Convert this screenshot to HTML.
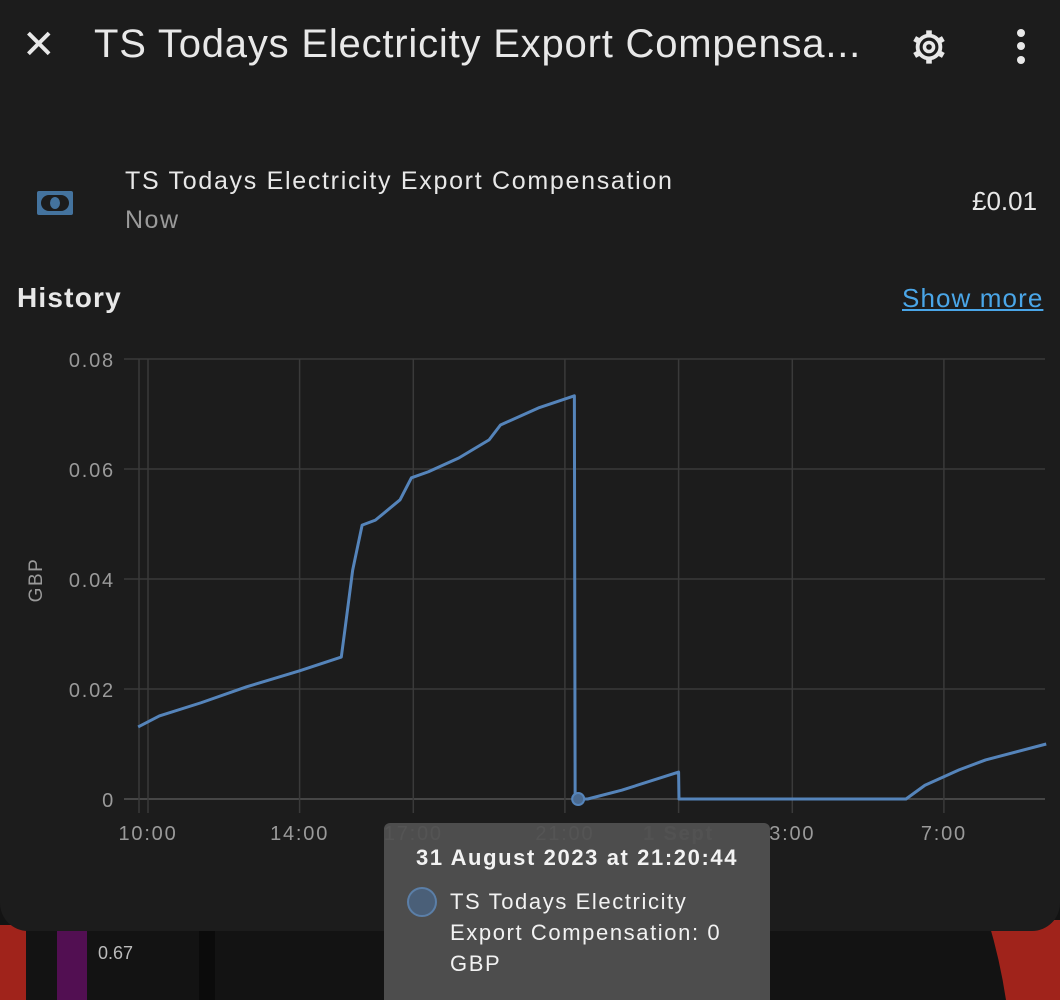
<!DOCTYPE html>
<html><head><meta charset="utf-8"><style>
html,body{margin:0;width:1060px;height:1000px;overflow:hidden}
body{background:#131313;font-family:"Liberation Sans",sans-serif;position:relative}
.abs{position:absolute}
</style></head><body>
<div class="abs" style="left:0;top:925px;width:26px;height:75px;background:#a0231b"></div>
<svg class="abs" style="left:980px;top:920px" width="80" height="80"><path d="M8 0 Q20 40 26 80 L80 80 L80 0 Z" fill="#a0231b"/></svg>
<div class="abs" style="left:57px;top:930px;width:30px;height:70px;background:#520f52"></div>
<div class="abs" style="left:98px;top:943px;font-size:18px;color:#bbb">0.67</div>
<div class="abs" style="left:199px;top:930px;width:16px;height:70px;background:#0b0b0b"></div>
<div class="abs" style="left:0;top:0;width:1060px;height:931px;background:#1c1c1c;border-radius:0 0 28px 28px"></div>
<div class="abs" style="left:22px;top:20px;font-size:40px;color:#e8e8e8;line-height:50px">✕</div>
<div class="abs" style="left:94px;top:22px;font-size:40px;letter-spacing:0.8px;color:#e8e8e8;white-space:nowrap">TS Todays Electricity Export Compensa...</div>
<svg class="abs" style="left:908px;top:26px" width="42" height="42" viewBox="0 0 24 24"><circle cx="12" cy="12" r="6.5" fill="none" stroke="#e8e8e8" stroke-width="2.2"/><circle cx="12" cy="12" r="2.6" fill="none" stroke="#e8e8e8" stroke-width="2"/><g stroke="#e8e8e8" stroke-width="3.2"><line x1="12" y1="2.5" x2="12" y2="5.5"/><line x1="12" y1="18.5" x2="12" y2="21.5"/><line x1="3.8" y1="7.2" x2="6.4" y2="8.7"/><line x1="17.6" y1="15.3" x2="20.2" y2="16.8"/><line x1="3.8" y1="16.8" x2="6.4" y2="15.3"/><line x1="17.6" y1="8.7" x2="20.2" y2="7.2"/></g></svg>
<svg class="abs" style="left:1008px;top:28px" width="26" height="38"><circle cx="13" cy="5" r="4" fill="#e8e8e8"/><circle cx="13" cy="18" r="4" fill="#e8e8e8"/><circle cx="13" cy="32" r="4" fill="#e8e8e8"/></svg>
<div class="abs" style="left:37px;top:191px;width:36px;height:24px;background:#44739e;border-radius:2px"><div style="position:absolute;left:4px;top:4px;width:28px;height:16px;background:#1c1c1c;border-radius:8px"></div><div style="position:absolute;left:13px;top:6px;width:10px;height:12px;background:#44739e;border-radius:50%"></div></div>
<div class="abs" style="left:125px;top:167px;font-size:25px;letter-spacing:1.7px;color:#e8e8e8;white-space:nowrap">TS Todays Electricity Export Compensation</div>
<div class="abs" style="left:125px;top:206px;font-size:25px;letter-spacing:1.5px;color:#9a9a9a">Now</div>
<div class="abs" style="left:972px;top:186px;font-size:26px;color:#e8e8e8">£0.01</div>
<div class="abs" style="left:17px;top:282px;font-size:28px;letter-spacing:1.2px;font-weight:bold;color:#e8e8e8">History</div>
<div class="abs" style="left:902px;top:283px;font-size:26px;letter-spacing:1.1px;color:#4aa6e8;text-decoration:underline;white-space:nowrap">Show more</div>
<svg class="abs" style="left:0;top:0" width="1060" height="1000" id="chart"></svg>
<div class="abs" style="left:384px;top:823px;width:386px;height:177px;background:rgba(80,80,80,0.95);border-radius:6px 6px 0 0">
<div style="position:absolute;left:32px;top:22px;font-size:22px;letter-spacing:1.6px;font-weight:bold;color:#f2f2f2;white-space:nowrap">31 August 2023 at 21:20:44</div>
<div style="position:absolute;left:23px;top:64px;width:30px;height:30px;border-radius:50%;background:#4a5f78;border:2px solid #5b7fa8;box-sizing:border-box"></div>
<div style="position:absolute;left:66px;top:63px;font-size:22px;letter-spacing:1.6px;line-height:31px;color:#f2f2f2;white-space:nowrap">TS Todays Electricity<br>Export Compensation: 0<br>GBP</div>
</div>
<script>
const yTicks=[0,0.02,0.04,0.06,0.08];
const yTickLabels=["0","0.02","0.04","0.06","0.08"];
const xTicks=[10,14,17,21,24,27,31];
const xTickLabels=["10:00","14:00","17:00","21:00","1 Sept","3:00","7:00"];
const hours=[9.74,10.3,11.4,12.6,14,15.1,15.2,15.4,15.65,16,16.65,16.95,17.4,18.2,19,19.3,20.3,21.25,21.27,21.6,22.5,24,24.01,30,30.5,31.4,32.1,33.7];
const values=[0.0131,0.0151,0.0175,0.0204,0.0233,0.0258,0.031,0.0416,0.0498,0.0507,0.0544,0.0584,0.0595,0.062,0.0653,0.068,0.0711,0.0733,0,0,0.0016,0.0049,0,0,0.0025,0.0053,0.0071,0.01];
const hoverPoint=[21.35,0];
const NS="http://www.w3.org/2000/svg";
const svg=document.getElementById('chart');
const X=h=>148+(h-10)*37.9;
const Y=v=>799-v*5500;
function mk(t,a){const e=document.createElementNS(NS,t);for(const k in a)e.setAttribute(k,a[k]);svg.appendChild(e);return e;}
yTicks.forEach((v,i)=>{
 const l=mk('line',{x1:124,x2:1045,y1:Y(v),y2:Y(v),stroke:i==0?'#555':'#3a3a3a','stroke-width':1.5});
 
 
 const t=mk('text',{x:115,y:Y(v)+8,'text-anchor':'end','font-size':20,fill:'#9a9a9a','font-family':'Liberation Sans','letter-spacing':'1.8'});
 t.textContent=yTickLabels[i];
 
 
});
mk('line',{x1:139,x2:139,y1:359,y2:813,stroke:'#3a3a3a','stroke-width':1.5});
xTicks.forEach((h,i)=>{
 const l=mk('line',{x1:X(h),x2:X(h),y1:359,y2:813,stroke:'#3a3a3a','stroke-width':1.5});
 
 
 const t=mk('text',{x:X(h),y:840,'text-anchor':'middle','font-size':20,fill:i==4?'#777':'#9a9a9a','font-weight':i==4?'bold':'normal','font-family':'Liberation Sans','letter-spacing':'1.8'});
 t.textContent=xTickLabels[i];
 
 
});
const yt=mk('text',{x:0,y:0,transform:'translate(42,580) rotate(-90)','text-anchor':'middle','font-size':19,fill:'#9a9a9a','font-family':'Liberation Sans','letter-spacing':'1.5'});
yt.textContent='GBP';


const p=mk('polyline',{points:hours.map((h,i)=>X(h)+','+Y(values[i])).join(' '),fill:'none',stroke:'#5584ba','stroke-width':3,'stroke-linejoin':'round'});


const c=mk('circle',{cx:X(hoverPoint[0]),cy:Y(hoverPoint[1]),r:6,fill:'#4a6a90',stroke:'#5584ba','stroke-width':2});


</script>
</body></html>
